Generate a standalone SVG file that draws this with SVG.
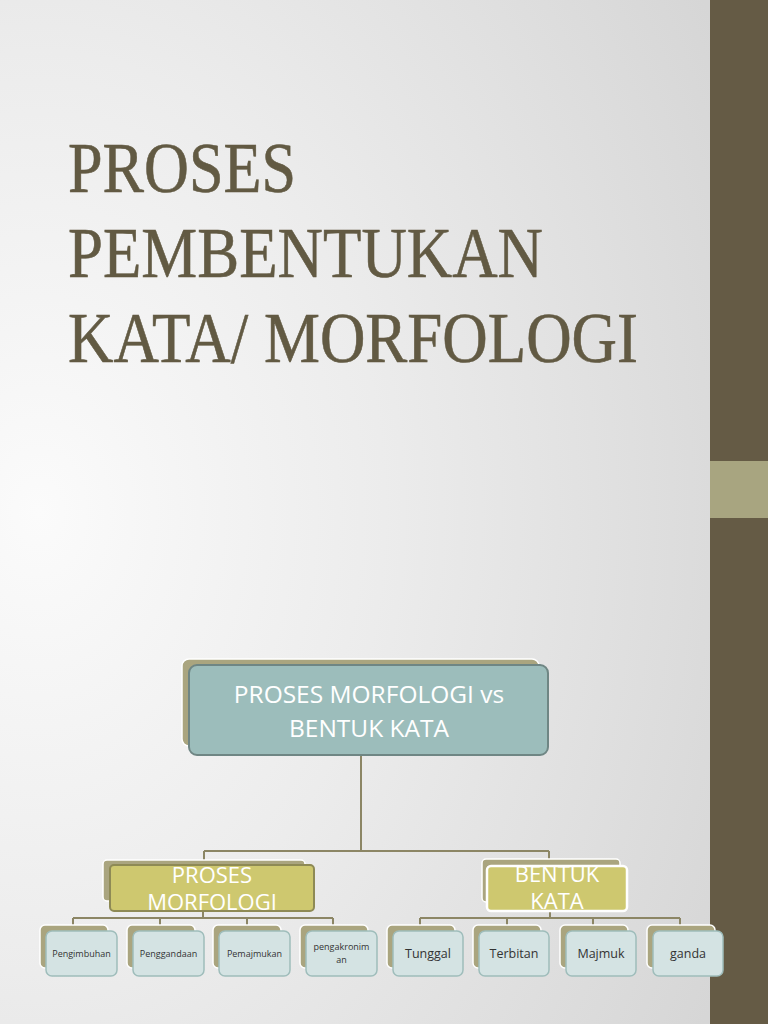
<svg xmlns="http://www.w3.org/2000/svg" width="768" height="1024" viewBox="0 0 768 1024">
<defs>
<radialGradient id="bg" cx="0.05" cy="0.5" r="1.0" gradientUnits="objectBoundingBox">
<stop offset="0" stop-color="#fbfbfb"/>
<stop offset="0.45" stop-color="#ececec"/>
<stop offset="1" stop-color="#d6d6d6"/>
</radialGradient>
<style>
.title{font-family:"Liberation Serif","DejaVu Serif",serif;font-size:72px;fill:#625a43;stroke:#625a43;stroke-width:0.6}
.shadow{fill:#aaa57f;stroke:#ffffff;stroke-width:1.5}
.top{fill:#9cbdbb;stroke:#6f8684;stroke-width:2}
.mid{fill:#cec86f;stroke:#8e8a55;stroke-width:2}
.midw{fill:#cec86f;stroke:#ffffff;stroke-width:2.5}
.leaf{fill:#d4e3e3;stroke:#9fbdbb;stroke-width:1.5}
.wt{font-family:"Open Sans","Liberation Sans",sans-serif;fill:#ffffff;text-anchor:middle}
.lt{font-family:"Open Sans","Liberation Sans",sans-serif;fill:#333333;text-anchor:middle}
.conn{fill:none;stroke:#8c8665;stroke-width:2}
</style>
</defs>
<rect x="0" y="0" width="768" height="1024" fill="url(#bg)"/>
<rect x="710" y="0" width="58" height="1024" fill="#655b45"/>
<rect x="710" y="461" width="58" height="57" fill="#a8a580"/>

<g id="title">
<text class="title" x="68" y="192" textLength="228" lengthAdjust="spacingAndGlyphs">PROSES</text>
<text class="title" x="68" y="277" textLength="475" lengthAdjust="spacingAndGlyphs">PEMBENTUKAN</text>
<text class="title" x="68" y="362" textLength="570" lengthAdjust="spacingAndGlyphs">KATA/ MORFOLOGI</text>
</g>

<g id="connectors">
<path class="conn" d="M361 755 V851 M204 851 H549 M204 851 V862 M549 851 V862"/>
<path class="conn" d="M203 911 V918 M73 918 H333 M73 918 V928 M160 918 V928 M247 918 V928 M333 918 V928"/>
<path class="conn" d="M550 911 V918 M420 918 H680 M420 918 V928 M507 918 V928 M593 918 V928 M680 918 V928"/>
</g>

<g id="node-root">
<rect class="shadow" x="182" y="659" width="357" height="87" rx="7"/>
<rect class="top" x="189" y="665" width="359" height="90" rx="8"/>
<text class="wt" x="369" y="703" font-size="24.5">PROSES MORFOLOGI vs</text>
<text class="wt" x="369" y="737" font-size="24.5">BENTUK KATA</text>
</g>

<g id="node-proses">
<rect class="shadow" x="103" y="860" width="202" height="41" rx="4"/>
<rect class="mid" x="110" y="865" width="204" height="46" rx="4"/>
<text class="wt" x="212" y="883" font-size="22">PROSES</text>
<text class="wt" x="212" y="910" font-size="22">MORFOLOGI</text>
</g>

<g id="node-bentuk">
<rect class="shadow" x="482" y="859" width="138" height="43" rx="4"/>
<rect class="midw" x="487" y="866" width="140" height="45" rx="4"/>
<text class="wt" x="557" y="882" font-size="22">BENTUK</text>
<text class="wt" x="557" y="909" font-size="22">KATA</text>
</g>

<g id="leaf-pengimbuhan">
<rect class="shadow" x="40" y="925" width="68" height="43" rx="5"/>
<rect class="leaf" x="46" y="931" width="71" height="45" rx="6"/>
<text class="lt" x="81.5" y="957" font-size="9">Pengimbuhan</text>
</g>
<g id="leaf-penggandaan">
<rect class="shadow" x="127" y="925" width="68" height="43" rx="5"/>
<rect class="leaf" x="133" y="931" width="71" height="45" rx="6"/>
<text class="lt" x="168.5" y="957" font-size="9">Penggandaan</text>
</g>
<g id="leaf-pemajmukan">
<rect class="shadow" x="213" y="925" width="68" height="43" rx="5"/>
<rect class="leaf" x="219" y="931" width="71" height="45" rx="6"/>
<text class="lt" x="254.5" y="957" font-size="9">Pemajmukan</text>
</g>
<g id="leaf-pengakroniman">
<rect class="shadow" x="300" y="925" width="68" height="43" rx="5"/>
<rect class="leaf" x="306" y="931" width="71" height="45" rx="6"/>
<text class="lt" x="341.5" y="950" font-size="9">pengakronim</text>
<text class="lt" x="341.5" y="963" font-size="9">an</text>
</g>

<g id="leaf-tunggal">
<rect class="shadow" x="387" y="925" width="68" height="43" rx="5"/>
<rect class="leaf" x="393" y="931" width="70" height="45" rx="6"/>
<text class="lt" x="428" y="958" font-size="12.5">Tunggal</text>
</g>
<g id="leaf-terbitan">
<rect class="shadow" x="473" y="925" width="68" height="43" rx="5"/>
<rect class="leaf" x="479" y="931" width="70" height="45" rx="6"/>
<text class="lt" x="514" y="958" font-size="12.5">Terbitan</text>
</g>
<g id="leaf-majmuk">
<rect class="shadow" x="560" y="925" width="68" height="43" rx="5"/>
<rect class="leaf" x="566" y="931" width="70" height="45" rx="6"/>
<text class="lt" x="601" y="958" font-size="12.5">Majmuk</text>
</g>
<g id="leaf-ganda">
<rect class="shadow" x="647" y="925" width="68" height="43" rx="5"/>
<rect class="leaf" x="653" y="931" width="70" height="45" rx="6"/>
<text class="lt" x="688" y="958" font-size="12.5">ganda</text>
</g>
</svg>
